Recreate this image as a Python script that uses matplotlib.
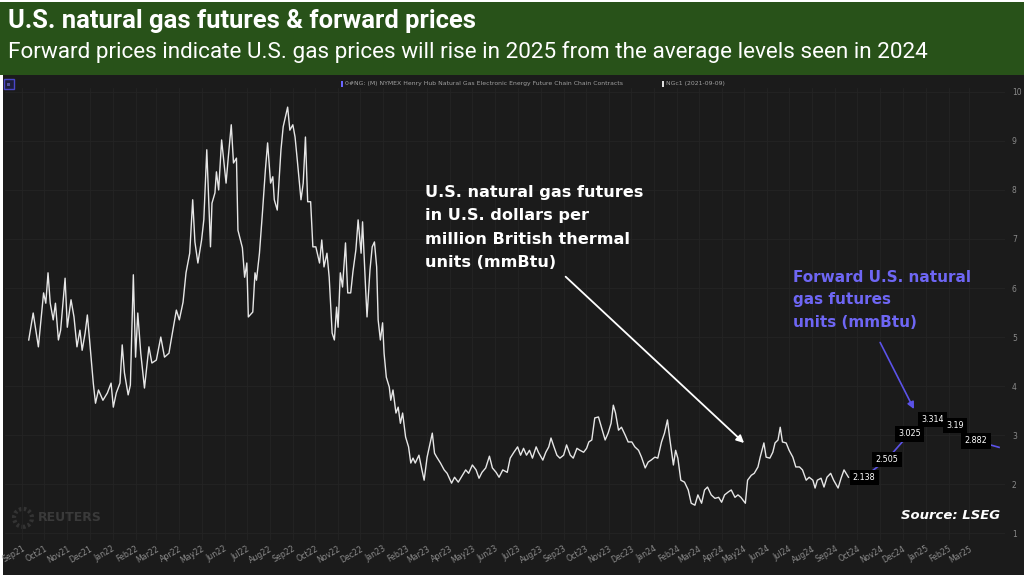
import pandas as pd
import matplotlib
matplotlib.use("Agg")
import matplotlib.pyplot as plt
import matplotlib.dates as mdates
from matplotlib.patches import Rectangle, Ellipse

# NGc1 front-month futures (days after 2021-09-01, $/mmBtu)
days = [
    9, 15, 22, 29, 32, 35, 38, 42, 45, 49, 52, 58, 61, 66, 70, 74, 78, 81, 85, 88,
    91, 96, 99, 103, 109, 115, 120, 123, 127, 132, 135, 138, 143, 146, 150, 153, 156, 160, 165, 171,
    175, 181, 187, 192, 198, 201, 208, 212, 217, 221, 226, 230, 233, 237, 242, 245, 249, 254, 256, 260,
    262, 265, 269, 275, 278, 282, 285, 289, 291, 297, 300, 303, 305, 311, 314, 316, 320, 324, 328, 331,
    335, 338, 340, 344, 349, 352, 358, 361, 365, 368, 371, 376, 379, 382, 385, 389, 392, 396, 401, 404,
    407, 411, 414, 418, 421, 424, 426, 429, 432, 436, 439, 443, 446, 450, 453, 457, 459, 463, 465, 469,
    472, 475, 478, 480, 483, 486, 488, 491, 495, 497, 500, 504, 507, 510, 513, 517, 521, 524, 527, 530,
    535, 539, 542, 546, 549, 553, 556, 559, 564, 569, 573, 579, 583, 588, 592, 598, 602, 607, 612, 616,
    620, 625, 630, 634, 639, 643, 648, 654, 658, 663, 668, 672, 676, 680, 684, 688, 693, 696, 702, 706,
    710, 713, 717, 721, 725, 730, 734, 739, 743, 748, 752, 757, 761, 764, 768, 772, 777, 781, 786, 790,
    794, 797, 800, 804, 808, 813, 817, 822, 826, 831, 835, 840, 844, 848, 853, 857, 862, 866, 870, 873,
    878, 881, 884, 888, 893, 898, 902, 907, 911, 916, 920, 924, 929, 934, 939, 943, 947, 952, 956, 961,
    965, 969, 975, 978, 983, 987, 992, 995, 1000, 1003, 1008, 1012, 1015, 1019, 1022, 1025, 1030, 1034, 1039, 1043,
    1048, 1052, 1057, 1061, 1066, 1069, 1072, 1077, 1081, 1085, 1090, 1094, 1100, 1104, 1108, 1114,
]
price = [
    4.94, 5.49, 4.80, 5.90, 5.69, 6.31, 5.69, 5.35, 5.69, 4.94, 5.14, 6.20, 5.20, 5.76, 5.41, 4.80, 5.14, 4.73, 5.08, 5.45,
    4.94, 4.06, 3.65, 3.92, 3.71, 3.86, 4.06, 3.57, 3.86, 4.06, 4.84, 4.27, 3.82, 4.02, 6.27, 4.59, 5.49, 4.67, 3.96, 4.80,
    4.47, 4.53, 5.00, 4.59, 4.67, 4.94, 5.55, 5.35, 5.71, 6.31, 6.71, 7.80, 6.94, 6.51, 6.98, 7.39, 8.82, 6.84, 7.73, 7.94,
    8.37, 8.00, 9.02, 8.14, 8.67, 9.33, 8.55, 8.65, 7.18, 6.82, 6.22, 6.51, 5.41, 5.51, 6.31, 6.16, 6.71, 7.53, 8.41, 8.96,
    8.14, 8.27, 7.80, 7.59, 8.82, 9.29, 9.69, 9.22, 9.33, 9.08, 8.61, 7.80, 8.14, 9.08, 7.76, 7.76, 6.84, 6.84, 6.51, 6.98,
    6.43, 6.71, 6.22, 5.08, 4.94, 5.61, 5.20, 6.31, 6.02, 6.92, 5.90, 5.90, 6.33, 6.78, 7.39, 6.71, 7.35, 6.02, 5.41, 6.37,
    6.84, 6.94, 6.43, 5.35, 4.94, 5.29, 4.67, 4.18, 3.98, 3.71, 3.92, 3.45, 3.57, 3.24, 3.45, 2.96, 2.76, 2.43, 2.53, 2.43,
    2.59, 2.29, 2.08, 2.55, 2.76, 3.04, 2.63, 2.55, 2.43, 2.29, 2.22, 2.02, 2.14, 2.04, 2.14, 2.29, 2.22, 2.39, 2.29, 2.12,
    2.24, 2.33, 2.57, 2.33, 2.24, 2.14, 2.29, 2.24, 2.53, 2.65, 2.76, 2.59, 2.73, 2.59, 2.69, 2.53, 2.76, 2.65, 2.49, 2.65,
    2.76, 2.94, 2.76, 2.59, 2.53, 2.59, 2.80, 2.59, 2.53, 2.73, 2.69, 2.65, 2.73, 2.86, 2.90, 3.35, 3.37, 3.16, 2.90, 3.04,
    3.24, 3.61, 3.45, 3.10, 3.16, 3.00, 2.86, 2.86, 2.76, 2.69, 2.55, 2.33, 2.45, 2.49, 2.55, 2.53, 2.86, 3.04, 3.31, 2.94,
    2.39, 2.69, 2.53, 2.08, 2.04, 1.88, 1.61, 1.57, 1.78, 1.61, 1.88, 1.94, 1.78, 1.71, 1.73, 1.63, 1.78, 1.84, 1.88, 1.73,
    1.78, 1.73, 1.61, 2.08, 2.18, 2.22, 2.35, 2.55, 2.84, 2.55, 2.53, 2.65, 2.84, 2.90, 3.16, 2.86, 2.84, 2.69, 2.55, 2.35,
    2.35, 2.29, 2.08, 2.14, 2.08, 1.92, 2.08, 2.12, 1.94, 2.14, 2.22, 2.08, 1.92, 2.12, 2.29, 2.14,
]

# forward curve (contract months)
fwd_months = ["2024-10", "2024-11", "2024-12", "2025-01", "2025-02", "2025-03", "2025-04"]
fwd_vals = [2.138, 2.505, 3.025, 3.314, 3.19, 2.882, 2.75]
fwd_labels = ["2.138", "2.505", "3.025", "3.314", "3.19", "2.882", None]

start = pd.Timestamp("2021-09-01")
dates = start + pd.to_timedelta(days, unit="D")
fwd_dates = pd.to_datetime(fwd_months) + pd.Timedelta(days=9)
month_ticks = pd.date_range("2021-09-01", "2025-03-01", freq="MS")

bg = "#1b1b1b"
green = "#285219"
blue = "#5b52e8"
blue_txt = "#6e66f4"
grey = "#8a8a8a"

fig = plt.figure(figsize=(10.24, 5.75), dpi=100, facecolor="white")
H = 575.0
W = 1024.0

# header and dark panel
fig.patches.append(Rectangle((3 / W, 0), 1, 1 - 75 / H, transform=fig.transFigure,
                             facecolor=bg, edgecolor="none", zorder=-2))
fig.patches.append(Rectangle((0, 1 - 75 / H), 1, 73 / H, transform=fig.transFigure,
                             facecolor=green, edgecolor="none", zorder=-2))
fig.text(8 / W, 1 - 21 / H, "U.S. natural gas futures & forward prices", color="white",
         fontsize=18.4, fontweight="bold", family="Roboto", va="center")
fig.text(8 / W, 1 - 52 / H,
         "Forward prices indicate U.S. gas prices will rise in 2025 from the average levels seen in 2024",
         color="white", fontsize=16.2, family="Roboto", va="center")

# little chart icon and legend strip
fig.patches.append(Rectangle((4 / W, 1 - 89 / H), 10 / W, 10 / H, transform=fig.transFigure,
                             facecolor="#1d1d3a", edgecolor="#4a46c8", lw=1, zorder=3))
fig.text(9 / W, 1 - 84 / H, "ııı", color="#8a86ff", fontsize=4, ha="center", va="center")
fig.patches.append(Rectangle((341 / W, 1 - 87 / H), 1.5 / W, 6 / H, transform=fig.transFigure,
                             facecolor="#6a66ff", edgecolor="none", zorder=3))
fig.text(345 / W, 1 - 84 / H,
         "0#NG: (M) NYMEX Henry Hub Natural Gas Electronic Energy Future Chain Chain Contracts",
         color="#a0a0a0", fontsize=4.4, va="center")
fig.patches.append(Rectangle((662 / W, 1 - 87 / H), 1.5 / W, 6 / H, transform=fig.transFigure,
                             facecolor="#e0e0e0", edgecolor="none", zorder=3))
fig.text(666 / W, 1 - 84 / H, "NGc1 (2021-09-09)", color="#a0a0a0", fontsize=4.4, va="center")

ax = fig.add_axes([5 / W, 35 / H, 1000 / W, 452 / H])
ax.set_facecolor(bg)
ax.plot(dates, price, color="#e6e6e6", lw=1.0, zorder=3)
ax.plot(fwd_dates, fwd_vals, color=blue, lw=1.2, zorder=3)
for d, v, lab in zip(fwd_dates, fwd_vals, fwd_labels):
    if lab:
        ax.text(d, v, lab, color="white", fontsize=5.8, ha="center", va="center", zorder=5,
                bbox=dict(boxstyle="square,pad=0.4", facecolor="black", edgecolor="none"))

ax.set_xlim(start - pd.Timedelta(days=23), start + pd.Timedelta(days=1325))
ax.set_ylim(0.86, 10.08)
ax.set_yticks(range(1, 11))
ax.yaxis.tick_right()
ax.tick_params(axis="y", length=0, pad=5, labelsize=5.5, labelcolor=grey)
ax.set_xticks(month_ticks)
ax.xaxis.set_major_formatter(mdates.DateFormatter("%b%y"))
ax.tick_params(axis="x", length=0, pad=3, labelsize=5.7, labelcolor=grey)
for lab in ax.get_xticklabels():
    lab.set_rotation(30)
    lab.set_ha("right")
    lab.set_rotation_mode("anchor")
ax.grid(True, color="#242424", lw=0.6)
for s in ax.spines.values():
    s.set_visible(False)

# annotations
ax.text(0.42, 0.785, "U.S. natural gas futures\nin U.S. dollars per\nmillion British thermal\nunits (mmBtu)",
        transform=ax.transAxes, color="white", fontsize=11.6, fontweight="bold", va="top",
        linespacing=1.68)
ax.annotate("", xy=(start + pd.Timedelta(days=976), 2.80), xytext=(start + pd.Timedelta(days=730), 6.27),
            arrowprops=dict(arrowstyle="-|>", color="white", lw=1.3, mutation_scale=11))
ax.text(0.788, 0.598, "Forward U.S. natural\ngas futures\nunits (mmBtu)",
        transform=ax.transAxes, color=blue_txt, fontsize=11, fontweight="bold", va="top",
        linespacing=1.62)
ax.annotate("", xy=(start + pd.Timedelta(days=1204), 3.48), xytext=(start + pd.Timedelta(days=1155), 4.94),
            arrowprops=dict(arrowstyle="-|>", color=blue, lw=1.2, mutation_scale=10))
ax.text(0.995, 0.055, "Source: LSEG", transform=ax.transAxes, color="white", fontsize=9.5,
        fontweight="bold", style="italic", ha="right", va="center")

# watermark
ax.add_patch(Ellipse((0.018, 0.049), 18 / 1000, 18 / 452, transform=ax.transAxes, facecolor="none",
                     edgecolor="#333333", lw=3, ls=(0, (0.6, 0.6))))
ax.text(0.033, 0.049, "REUTERS", transform=ax.transAxes, color="#3a3a3a", fontsize=9,
        fontweight="bold", va="center")

fig.savefig("out.png", dpi=100, facecolor="white")
